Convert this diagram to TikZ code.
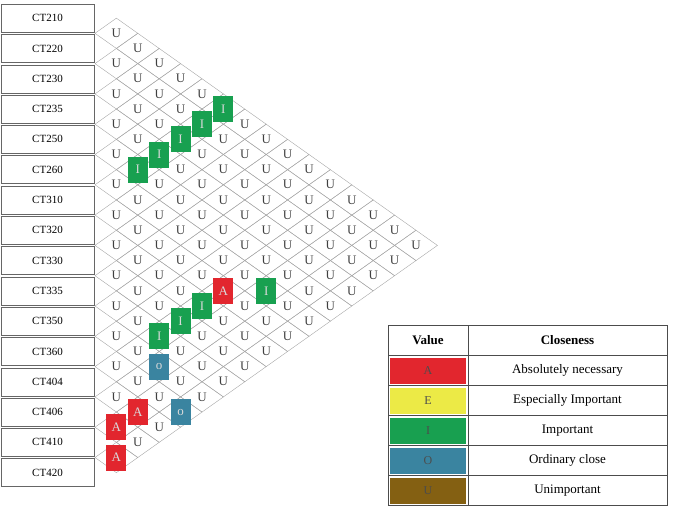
\documentclass[tikz,border=0pt]{standalone}
\usepackage{fontspec}
\setmainfont{Liberation Serif}
\definecolor{relA}{RGB}{226,38,46}
\definecolor{relE}{RGB}{236,234,70}
\definecolor{relI}{RGB}{24,160,80}
\definecolor{relO}{RGB}{58,132,160}
\definecolor{relU}{RGB}{132,96,18}
\begin{document}
\begin{tikzpicture}[x=1pt, y=-1pt]

    % Styles
    \tikzset{
        dept/.style={draw=black!60, minimum width=93pt, minimum height=28pt, font=\fontsize{11}{13}\selectfont, fill=white},
        rel/.style={font=\fontsize{13}{14}\selectfont, text=black!75},
        ratebox/.style={rel, minimum width=20pt, minimum height=26pt, text=white!85!black, inner sep=0pt},
        cell/.style={draw=black!70, minimum height=30pt, inner sep=0pt, font=\fontsize{13}{15}\selectfont}
    }
    \def\dx{21.4}
    \def\dy{30.3}
    \def\ratings{1/7/I/relI,2/7/I/relI,3/7/I/relI,4/7/I/relI,5/7/I/relI,
                 7/13/A/relA,8/13/I/relI,9/13/I/relI,10/13/I/relI,6/14/I/relI,
                 11/14/o/relO,12/16/o/relO,13/15/A/relA,14/15/A/relA,15/16/A/relA}
    \foreach \i/\j/\v/\c in \ratings
        \expandafter\gdef\csname rated\i-\j\endcsname{};

    \useasboundingbox (0,0) rectangle (685,507);

    % Departments
    \foreach \i/\name in {1/CT210,2/CT220,3/CT230,4/CT235,5/CT250,6/CT260,7/CT310,8/CT320,
                          9/CT330,10/CT335,11/CT350,12/CT360,13/CT404,14/CT406,15/CT410,16/CT420}
        \node[dept] (D\i) at (47.5,{3+(\i-0.5)*\dy}) {\name};

    % Relationship grid
    \foreach \i in {1,...,15} {
        \pgfmathtruncatemacro{\jstart}{\i+1}
        \foreach \j in {\jstart,...,16} {
            \draw[black!35] ({95+(\j-\i)*\dx},{3+((\i+\j)/2-0.5)*\dy})
                ++(-\dx,0) -- ++(\dx,-\dy/2) -- ++(\dx,\dy/2) -- ++(-\dx,\dy/2) -- cycle;
            \node[rel] (R\i-\j) at ({95+(\j-\i)*\dx},{3+((\i+\j)/2-0.5)*\dy})
                {\ifcsname rated\i-\j\endcsname\else U\fi};
        }
    }

    % Closeness ratings other than U
    \foreach \i/\j/\v/\c in \ratings
        \node[ratebox, fill=\c] at (R\i-\j) {\v};

    % Legend
    \node[cell, minimum width=80pt, font=\bfseries\fontsize{13}{15}\selectfont] (VH) at (428,340.5) {Value};
    \node[cell, minimum width=199pt, font=\bfseries\fontsize{13}{15}\selectfont] (CH) at (567.5,340.5) {Closeness};
    \foreach \n/\v/\c/\t in {1/A/relA/Absolutely necessary,2/E/relE/Especially Important,
                             3/I/relI/Important,4/O/relO/Ordinary close,5/U/relU/Unimportant} {
        \node[cell, minimum width=80pt] (V\n) at (428,{340.5+\n*30}) {};
        \node[fill=\c, minimum width=76pt, minimum height=26pt, inner sep=0pt,
              font=\fontsize{12}{13}\selectfont, text=black!70] at (V\n) {\v};
        \node[cell, minimum width=199pt] (C\n) at (567.5,{340.5+\n*30}) {\t};
    }

\end{tikzpicture}
\end{document}
